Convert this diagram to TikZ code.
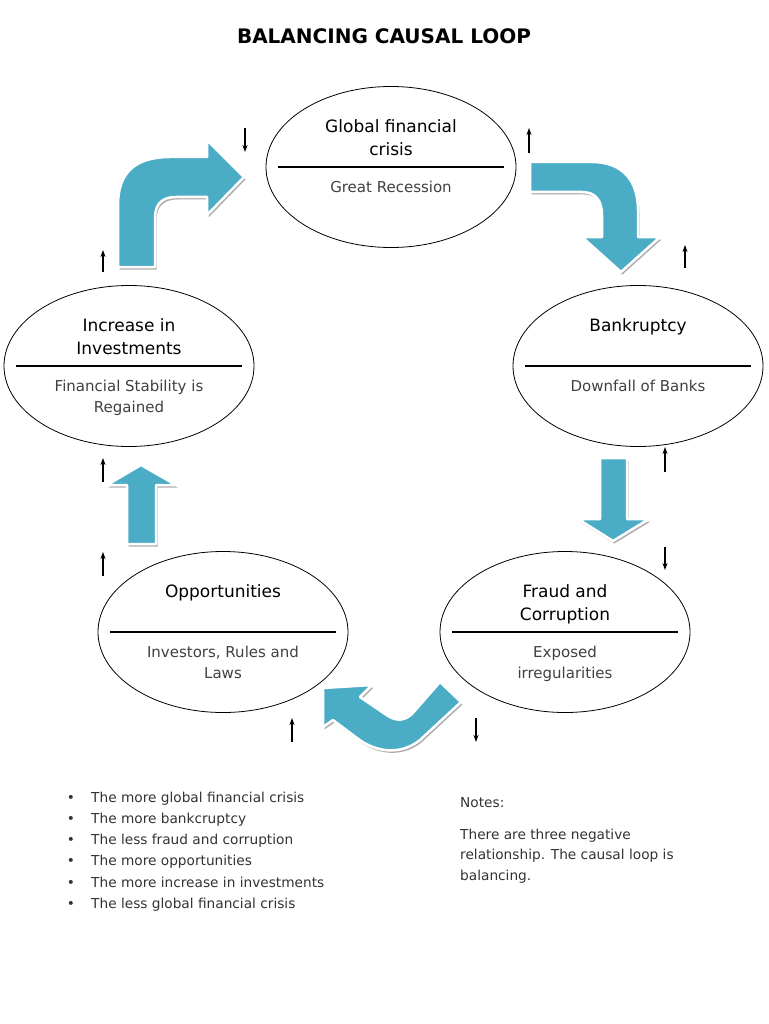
\documentclass[tikz,border=0pt]{standalone}
\usepackage{fontspec}
\setmainfont{DejaVu Sans}
\usetikzlibrary{shapes.geometric,arrows.meta,shadows}
\definecolor{loopblue}{HTML}{4BACC6}
\definecolor{subgray}{HTML}{404040}

\begin{document}
\begin{tikzpicture}[x=1pt, y=-1pt, >={Stealth[length=7pt,width=5pt]},
  loop node/.style={ellipse,draw,line width=0.8pt,minimum width=250pt,minimum height=161pt,inner sep=0pt},
  divider/.style={line width=1.2pt},
  head text/.style={font=\fontsize{17}{23}\selectfont,align=center,inner sep=0pt,anchor=north},
  sub text/.style={font=\fontsize{15}{21}\selectfont,text=subgray,align=center,inner sep=0pt,anchor=north},
  big arrow/.style={fill=loopblue,draw=white,line width=2.5pt,line join=round,
    drop shadow={shadow xshift=1.5pt,shadow yshift=-2.5pt,fill=black!40,opacity=0.8}},
  sign/.style={->,line width=1.4pt},
  list text/.style={font=\fontsize{13.7}{20.3}\selectfont,text=black!80,inner sep=0pt}]
\useasboundingbox (0,0) rectangle (768,1024);

\node[font=\bfseries\fontsize{20}{24}\selectfont] (title) at (384,36) {BALANCING CAUSAL LOOP};

% the five stages of the loop
\foreach \nm/\px/\py/\ttl/\sub in {
  gfc/391/167/{Global financial\\crisis}/{Great Recession},
  bank/638/366/{Bankruptcy}/{Downfall of Banks},
  fraud/565/632/{Fraud and\\Corruption}/{Exposed\\irregularities},
  opp/223/632/{Opportunities}/{Investors, Rules and\\Laws},
  inv/129/366/{Increase in\\Investments}/{Financial Stability is\\Regained}}{
  \node[loop node] (\nm) at (\px,\py) {};
  \draw[divider] ([xshift=-113pt]\nm.center) -- ([xshift=113pt]\nm.center);
  \node[head text] (\nm-head) at ([yshift=48pt]\nm.center) {\ttl};
  \node[sub text] (\nm-sub) at ([yshift=-14pt]\nm.center) {\sub};
}

% big arrows between the stages
\path[big arrow] (118,267) -- (118,205) .. controls (118,172) and (136,157) .. (170,157)
  -- (207,157) -- (207,140) -- (244,177) -- (207,215) -- (207,197) -- (176,197)
  .. controls (162,197) and (155,204) .. (155,218) -- (155,267) -- cycle;
\path[big arrow] (530,162) -- (592,162) .. controls (622,162) and (638,180) .. (638,210)
  -- (638,237) -- (660,237) -- (621,272) -- (582,237) -- (602,237) -- (602,215)
  .. controls (602,200) and (595,192) .. (582,192) -- (530,192) -- cycle;
\path[big arrow] (600,458) -- (627,458) -- (627,519) -- (649,519) -- (613,541)
  -- (578,519) -- (600,519) -- cycle;
\path[big arrow] (127,544) -- (127,485) -- (107,485) -- (141,465) -- (176,485)
  -- (156,485) -- (156,544) -- cycle;
\path[big arrow] (323,688) -- (372,685) -- (360,697) -- (388,716)
  .. controls (398,722) and (405,720) .. (412,714) -- (440,682) -- (461,702) -- (420,740)
  .. controls (400,756) and (375,752) .. (357,738) -- (333,720) -- (323,727) -- cycle;

% polarity signs
\foreach \x/\ya/\yb in {103/272/250, 529/153/128, 685/268/245, 665/472/447,
  103/482/458, 103/576/552, 292/742/718, 245/128/152, 665/547/570, 476/718/742}
  \draw[sign] (\x,\ya) -- (\x,\yb);

% list of effects
\foreach \txt [count=\i] in {The more global financial crisis, The more bankcruptcy,
  The less fraud and corruption, The more opportunities,
  The more increase in investments, The less global financial crisis}{
  \node[list text, anchor=base] (dot\i) at (71,{802+21.3*(\i-1)}) {\textbullet};
  \node[list text, anchor=base west] (item\i) at (91,{802+21.3*(\i-1)}) {\txt};
}

\node[list text, anchor=base west] (notes) at (460,807) {Notes:};
\node[list text, anchor=north west, align=left] (remark) at (460,829)
  {There are three negative\\relationship. The causal loop is\\balancing.};
\end{tikzpicture}
\end{document}
